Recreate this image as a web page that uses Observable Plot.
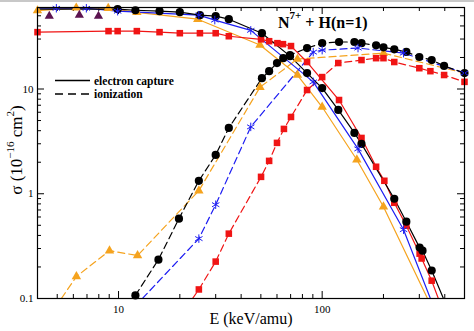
<!DOCTYPE html>
<html><head><meta charset="utf-8">
<script src="https://cdn.jsdelivr.net/npm/d3@7"></script>
<script src="https://cdn.jsdelivr.net/npm/@observablehq/plot@0.6"></script>
<style>body{margin:0;background:#fff} svg{display:block}</style>
</head><body><div id="chart"></div>
<script>
// ---- data (E in keV/amu, sigma in 1e-16 cm^2); M = 1 when a marker is drawn ----
const capBlackE = [4, 9.9, 12.1, 15.9, 20, 25.1, 30, 34.8, 50.6, 69.5, 84.3, 100, 120, 144, 156, 226, 259, 301, 311, 345, 394];
const capBlackS = [58, 57.8, 56.5, 55.3, 54.1, 50.7, 49.6, 46.4, 34.1, 20.6, 14.2, 10.2, 6.31, 3.81, 2.99, 0.896, 0.541, 0.306, 0.286, 0.185, 0.1];
const capBlackM = [0, 1, 1, 1, 1, 1, 1, 1, 1, 1, 1, 1, 1, 1, 1, 1, 1, 1, 1, 1, 0];

const capBlueE = [4, 4.95, 6.95, 9.9, 24.8, 29.7, 44.6, 90.4, 150, 251, 340];
const capBlueS = [59, 59, 59, 55.3, 50.7, 45.5, 36.3, 11.7, 2.68, 0.454, 0.1];
const capBlueM = [0, 1, 1, 1, 1, 1, 1, 1, 1, 1, 0];

const capRedE = [4, 8.93, 9.9, 12.3, 15.9, 20, 25.1, 30, 34.8, 50.1, 54.9, 60.3, 64.2, 70.3, 84.3, 121, 156, 184, 202, 226, 259, 301, 308, 345, 372];
const capRedS = [34.9, 35.7, 35.7, 35.7, 34.9, 34.1, 34.1, 34.1, 31.9, 29.8, 28.6, 27.4, 26.8, 25.7, 18.1, 7.85, 3.41, 1.81, 1.33, 0.82, 0.496, 0.268, 0.241, 0.148, 0.1];
const capRedM = [1, 1, 1, 1, 1, 1, 1, 1, 1, 1, 1, 1, 1, 1, 1, 1, 1, 1, 1, 1, 1, 1, 1, 1, 0];

const capOrangeE = [4, 6.2, 8.9, 12.3, 24.5, 49.5, 75.6, 100, 148, 200, 329];
const capOrangeS = [56, 59.5, 59, 54, 46.4, 26.3, 13.6, 6.73, 2.11, 0.752, 0.1];
const capOrangeM = [1, 1, 1, 1, 1, 1, 1, 1, 1, 1, 0];

const hatE = [4.57, 6.42, 7.97];
const hatS = [49.6, 50.7, 49.6];

const ionBlackE = [12.1, 15.7, 19.8, 24.8, 30, 34.8, 50.6, 54.9, 60, 64.4, 69.5, 84.3, 100, 121, 144, 156, 184, 200, 226, 259, 300, 345, 397, 500];
const ionBlackS = [0.107, 0.235, 0.578, 1.33, 2.35, 4.25, 12.7, 14.8, 17.7, 19.7, 21.1, 24.6, 27.4, 28.1, 28.1, 27.4, 26.1, 25.0, 23.9, 22.6, 20.2, 18.9, 16.6, 14.2];
const ionBlackM = ionBlackE.map(() => 1);

const ionBlueE = [13.1, 24.8, 30, 44.6, 90.4, 100, 150, 251, 500];
const ionBlueS = [0.1, 0.373, 0.786, 4.35, 22.5, 23.5, 24.6, 22.0, 14.2];
const ionBlueM = [0, 1, 1, 1, 1, 1, 1, 1, 1];

const ionRedE = [23.1, 24.8, 30, 34.8, 50.1, 54.9, 60, 64.9, 70.3, 84.3, 100, 120, 156, 184, 200, 226, 300, 340, 397, 500];
const ionRedS = [0.1, 0.122, 0.225, 0.416, 1.45, 2.06, 3.06, 4.16, 5.41, 9.78, 13.0, 17.7, 18.9, 19.7, 19.7, 18.1, 15.8, 14.8, 13.6, 11.7];
const ionRedM = [0, 1, 1, 1, 1, 1, 1, 1, 1, 1, 1, 1, 1, 1, 1, 1, 1, 1, 1, 1];

const ionOrangeE = [5.24, 6.21, 9.03, 12.4, 24.8, 49.5, 75.6, 200, 500];
const ionOrangeS = [0.1, 0.162, 0.286, 0.257, 1.07, 10.4, 19.3, 22.0, 14.2];
const ionOrangeM = [0, 1, 1, 1, 1, 1, 1, 1, 0];

const xLabelTicks = [10, 100, 500];
const xMajorTicks = [10, 100];
const xMinorTicks = [5, 6, 7, 8, 9, 20, 30, 40, 50, 60, 70, 80, 90, 200, 300, 400];
const yLabelTicks = [0.1, 1, 10, 60];
const yMajorTicks = [1, 10];
const yMinorTicks = [0.2, 0.3, 0.4, 0.5, 0.6, 0.7, 0.8, 0.9, 2, 3, 4, 5, 6, 7, 8, 9, 20, 30, 40, 50];

// ---- layout ----
const W = 474, H = 331, mL = 37, mR = 10, mT = 7, mB = 33;
const PW = W - mL - mR, PH = H - mT - mB;
const BLACK = "#000000", BLUE = "#1d1df2", RED = "#f01414", ORANGE = "#f5a31e", PURPLE = "#5c1450";

const rows = (E, S, M) => E.map((e, i) => ({E: e, S: S[i], m: M[i]}));
const cBk = rows(capBlackE, capBlackS, capBlackM), cBl = rows(capBlueE, capBlueS, capBlueM);
const cRd = rows(capRedE, capRedS, capRedM), cOr = rows(capOrangeE, capOrangeS, capOrangeM);
const iBk = rows(ionBlackE, ionBlackS, ionBlackM), iBl = rows(ionBlueE, ionBlueS, ionBlueM);
const iRd = rows(ionRedE, ionRedS, ionRedM), iOr = rows(ionOrangeE, ionOrangeS, ionOrangeM);
const hats = hatE.map((e, i) => ({E: e, S: hatS[i]}));
const mk = d => d.filter(r => r.m);

const DASH = "7,4";
const lineOpts = (stroke, dash) => ({x: "E", y: "S", stroke, strokeWidth: 1.2, strokeDasharray: dash, clip: true});

const chart = Plot.plot({
  width: W, height: H,
  marginLeft: mL, marginRight: mR, marginTop: mT, marginBottom: mB,
  style: {fontFamily: "'Liberation Serif', 'DejaVu Serif', serif", fontSize: "11px", color: "#000", background: "#fff"},
  x: {type: "log", domain: [4, 500]},
  y: {type: "log", domain: [0.1, 60]},
  marks: [
    // ticks (inward, all four sides)
    Plot.tickX(xMajorTicks, {x: d => d, insetTop: PH - 7, stroke: "#000"}),
    Plot.tickX(xMajorTicks, {x: d => d, insetBottom: PH - 7, stroke: "#000"}),
    Plot.tickX(xMinorTicks, {x: d => d, insetTop: PH - 4, stroke: "#000"}),
    Plot.tickX(xMinorTicks, {x: d => d, insetBottom: PH - 4, stroke: "#000"}),
    Plot.tickY(yMajorTicks, {y: d => d, insetRight: PW - 7, stroke: "#000"}),
    Plot.tickY(yMajorTicks, {y: d => d, insetLeft: PW - 7, stroke: "#000"}),
    Plot.tickY(yMinorTicks, {y: d => d, insetRight: PW - 4, stroke: "#000"}),
    Plot.tickY(yMinorTicks, {y: d => d, insetLeft: PW - 4, stroke: "#000"}),
    Plot.axisX(xLabelTicks, {tickSize: 0, tickPadding: 7, label: null, tickFormat: d => String(d), fontSize: 11}),
    Plot.axisY(yLabelTicks, {tickSize: 0, tickPadding: 4, label: null, tickFormat: d => String(d), fontSize: 11}),
    // ionization (dashed)
    Plot.line(iOr, lineOpts(ORANGE, DASH)),
    Plot.line(iRd, lineOpts(RED, DASH)),
    Plot.line(iBl, lineOpts(BLUE, DASH)),
    Plot.line(iBk, lineOpts(BLACK, DASH)),
    // electron capture (solid)
    Plot.line(cOr, lineOpts(ORANGE)),
    Plot.line(cRd, lineOpts(RED)),
    Plot.line(cBl, lineOpts(BLUE)),
    Plot.line(cBk, lineOpts(BLACK)),
    // markers
    Plot.dot(mk(iOr).concat(mk(cOr)), {x: "E", y: "S", symbol: "triangle", r: 3.5, fill: ORANGE}),
    Plot.dot(mk(iRd).concat(mk(cRd)), {x: "E", y: "S", symbol: "square", r: 3.7, fill: RED}),
    Plot.dot(mk(iBk).concat(mk(cBk)), {x: "E", y: "S", symbol: "circle", r: 4.1, fill: BLACK}),
    Plot.dot(mk(iBl).concat(mk(cBl)), {x: "E", y: "S", symbol: "asterisk", r: 4, stroke: BLUE, strokeWidth: 1}),
    Plot.dot(hats, {x: "E", y: "S", symbol: "triangle", r: 3.4, fill: PURPLE}),
    Plot.frame({stroke: "#000", strokeWidth: 1.2})
  ]
});

document.getElementById("chart").appendChild(chart);
const svg = d3.select(chart);
const serif = "'Liberation Serif', 'DejaVu Serif', serif";

// thin gray strip at the very top, as in the reference
svg.insert("rect", ":first-child").attr("x", 0).attr("y", 0).attr("width", W).attr("height", 2).attr("fill", "#c8c8c8");

// x label
svg.append("text").attr("x", 251).attr("y", 324).attr("text-anchor", "middle")
  .attr("font-family", serif).attr("font-size", 16).text("E (keV/amu)");

// y label with superscripts
const yl = svg.append("text").attr("transform", "translate(22,150) rotate(-90)").attr("text-anchor", "middle")
  .attr("font-family", serif).attr("font-size", 17);
yl.append("tspan").text("σ (10");
yl.append("tspan").attr("font-size", 11).attr("dy", -8).text("−16");
yl.append("tspan").attr("dy", 8).text(" cm");
yl.append("tspan").attr("font-size", 11).attr("dy", -8).text("2");
yl.append("tspan").attr("dy", 8).text(")");

// annotation
const an = svg.append("text").attr("x", 278).attr("y", 28).attr("text-anchor", "start").attr("font-family", serif)
  .attr("font-size", 16).attr("font-weight", "bold");
an.append("tspan").text("N");
an.append("tspan").attr("font-size", 11).attr("dy", -9).text("7+");
an.append("tspan").attr("dy", 9).text(" + H(n=1)");

// legend
const lg = svg.append("g").attr("font-family", serif).attr("font-size", 11.5).attr("font-weight", "bold").attr("text-anchor", "start");
lg.append("line").attr("x1", 55).attr("x2", 90).attr("y1", 80.5).attr("y2", 80.5).attr("stroke", "#000").attr("stroke-width", 1.6);
lg.append("line").attr("x1", 55).attr("x2", 90).attr("y1", 94).attr("y2", 94).attr("stroke", "#000").attr("stroke-width", 1.6).attr("stroke-dasharray", "8,5");
lg.append("text").attr("x", 94).attr("y", 80.5).attr("dy", "0.35em").text("electron capture");
lg.append("text").attr("x", 94).attr("y", 94).attr("dy", "0.35em").text("ionization");
</script>
</body></html>
